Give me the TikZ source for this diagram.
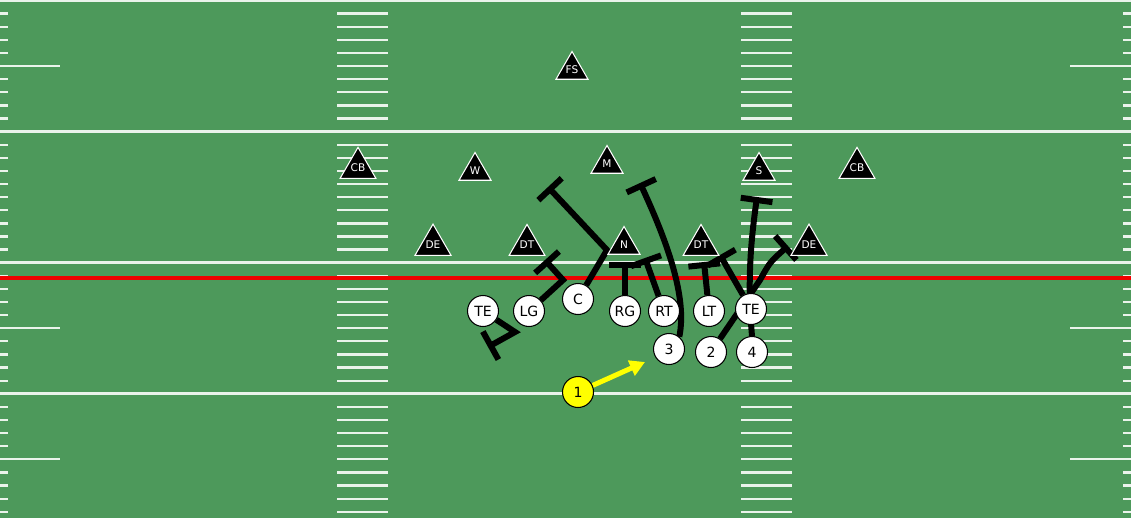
\documentclass[tikz,border=0pt]{standalone}
\usepackage{fontspec}
\setmainfont{DejaVu Sans}
\usetikzlibrary{shapes.geometric, arrows.meta}
\usetikzlibrary{positioning,backgrounds}
\definecolor{fieldGreen}{RGB}{77,153,91}
\definecolor{lineRed}{RGB}{240,0,0}
\definecolor{runYellow}{RGB}{255,255,0}
\pgfdeclarelayer{field}
\pgfdeclarelayer{routes}
\pgfsetlayers{field,routes,main}

\begin{document}
\begin{tikzpicture}[x=0.02cm, y=-0.02cm]
	%defines
	\tikzstyle{offense} = [circle, draw=black, fill=white, line width=0.6pt, minimum size=0.62cm, inner sep=0pt, font=\fontsize{8}{9}\selectfont]
	\tikzstyle{runner} = [offense, fill=runYellow]
	\tikzstyle{defense} = [regular polygon, regular polygon sides=3, draw=white, fill=black, line width=0.6pt, minimum size=0.74cm, inner sep=0pt, text=white, font=\fontsize{6}{7}\selectfont]
	\tikzstyle{block} = [line width=0.12cm, -{Bar[width=0.64cm]}]
	\tikzstyle{runArrow} = [runYellow, line width=0.1cm, -{Triangle[length=0.3cm, width=0.32cm]}]
	\tikzstyle{yardLine} = [white!88!fieldGreen, line width=0.06cm]
	\tikzstyle{hashMark} = [white!88!fieldGreen, line width=0.045cm]
	\tikzstyle{scrimmage} = [lineRed, line width=0.08cm]
	\useasboundingbox (0,0) rectangle (1131,518);
	%field
	\begin{pgfonlayer}{field}
		\fill[fieldGreen] (0,0) rectangle (1131,518);
		\foreach \k in {0,...,3}
			\draw[yardLine] (0,{0.5+131.1*\k}) -- (1131,{0.5+131.1*\k});
		\foreach \k in {1,...,39} {
			\pgfmathtruncatemacro\m{mod(\k,10)}
			\ifnum\m=0 \else
				\draw[hashMark] (337,{0.5+13.11*\k}) -- (388,{0.5+13.11*\k});
				\draw[hashMark] (741,{0.5+13.11*\k}) -- (792,{0.5+13.11*\k});
				\draw[hashMark] (0,{0.5+13.11*\k}) -- (8,{0.5+13.11*\k});
				\draw[hashMark] (1123,{0.5+13.11*\k}) -- (1131,{0.5+13.11*\k});
			\fi
		}
		\foreach \k in {5,25,35} {
			\draw[hashMark] (0,{0.5+13.11*\k}) -- (60,{0.5+13.11*\k});
			\draw[hashMark] (1070,{0.5+13.11*\k}) -- (1131,{0.5+13.11*\k});
		}
		\draw[scrimmage] (0,278) -- (1131,278);
	\end{pgfonlayer}
	%defense
	\node (fs) [defense] at (572,70) {FS};
	\node (cbL) [defense] at (358,168) {CB};
	\node (w) [defense] at (475,171) {W};
	\node (m) [defense] at (607,164) {M};
	\node (s) [defense] at (759,171) {S};
	\node (cbR) [defense] at (857,168) {CB};
	\node (deL) [defense] at (433,245) {DE};
	\node (dtL) [defense] at (527,245) {DT};
	\node (n) [defense] at (624,245) {N};
	\node (dtR) [defense] at (701,245) {DT};
	\node (deR) [defense] at (809,245) {DE};
	%offense
	\node (teL) [offense] at (483,311) {TE};
	\node (lg) [offense] at (529,311) {LG};
	\node (c) [offense] at (578,299) {C};
	\node (rg) [offense] at (625,311) {RG};
	\node (rt) [offense] at (664,311) {RT};
	\node (lt) [offense] at (709,311) {LT};
	\node (teR) [offense] at (751,309) {TE};
	\node (three) [offense] at (669,349) {3};
	\node (two) [offense] at (711,352) {2};
	\node (four) [offense] at (752,352) {4};
	\node (one) [runner] at (578,392) {1};
	%route points
	\coordinate (teLa) at (515,332);
	\coordinate (teLb) at (488,347);
	\coordinate (lgA) at (563,280);
	\coordinate (lgB) at (545,260);
	\coordinate (cA) at (607,250);
	\coordinate (cB) at (548,187);
	\coordinate (rgB) at (625,262);
	\coordinate (rtB) at (645,258);
	\coordinate (threeB) at (640,183);
	\coordinate (ltB) at (704,262);
	\coordinate (teRB) at (720,255);
	\coordinate (twoA) at (760,280);
	\coordinate (twoB) at (788,246);
	\coordinate (fourB) at (757,197);
	\coordinate (runTo) at (645,362);
	%routes
	\begin{pgfonlayer}{routes}
		\draw [block] (teL) -- (teLa) -- (teLb);
		\draw [block] (lg) -- (lgA) -- (lgB);
		\draw [block] (c) -- (cA) -- (cB);
		\draw [block] (rg) -- (rgB);
		\draw [block] (rt) -- (rtB);
		\draw [block] (three.50) .. controls (688,295) and (664,235) .. (threeB);
		\draw [block] (lt) -- (ltB);
		\draw [block] (teR) -- (teRB);
		\draw [block] (two) -- (twoA) .. controls (770,262) .. (twoB);
		\draw [block] (four.north) .. controls (747,280) and (751,240) .. (fourB);
		\draw [runArrow] (one) -- (runTo);
	\end{pgfonlayer}
\end{tikzpicture}
\end{document}
